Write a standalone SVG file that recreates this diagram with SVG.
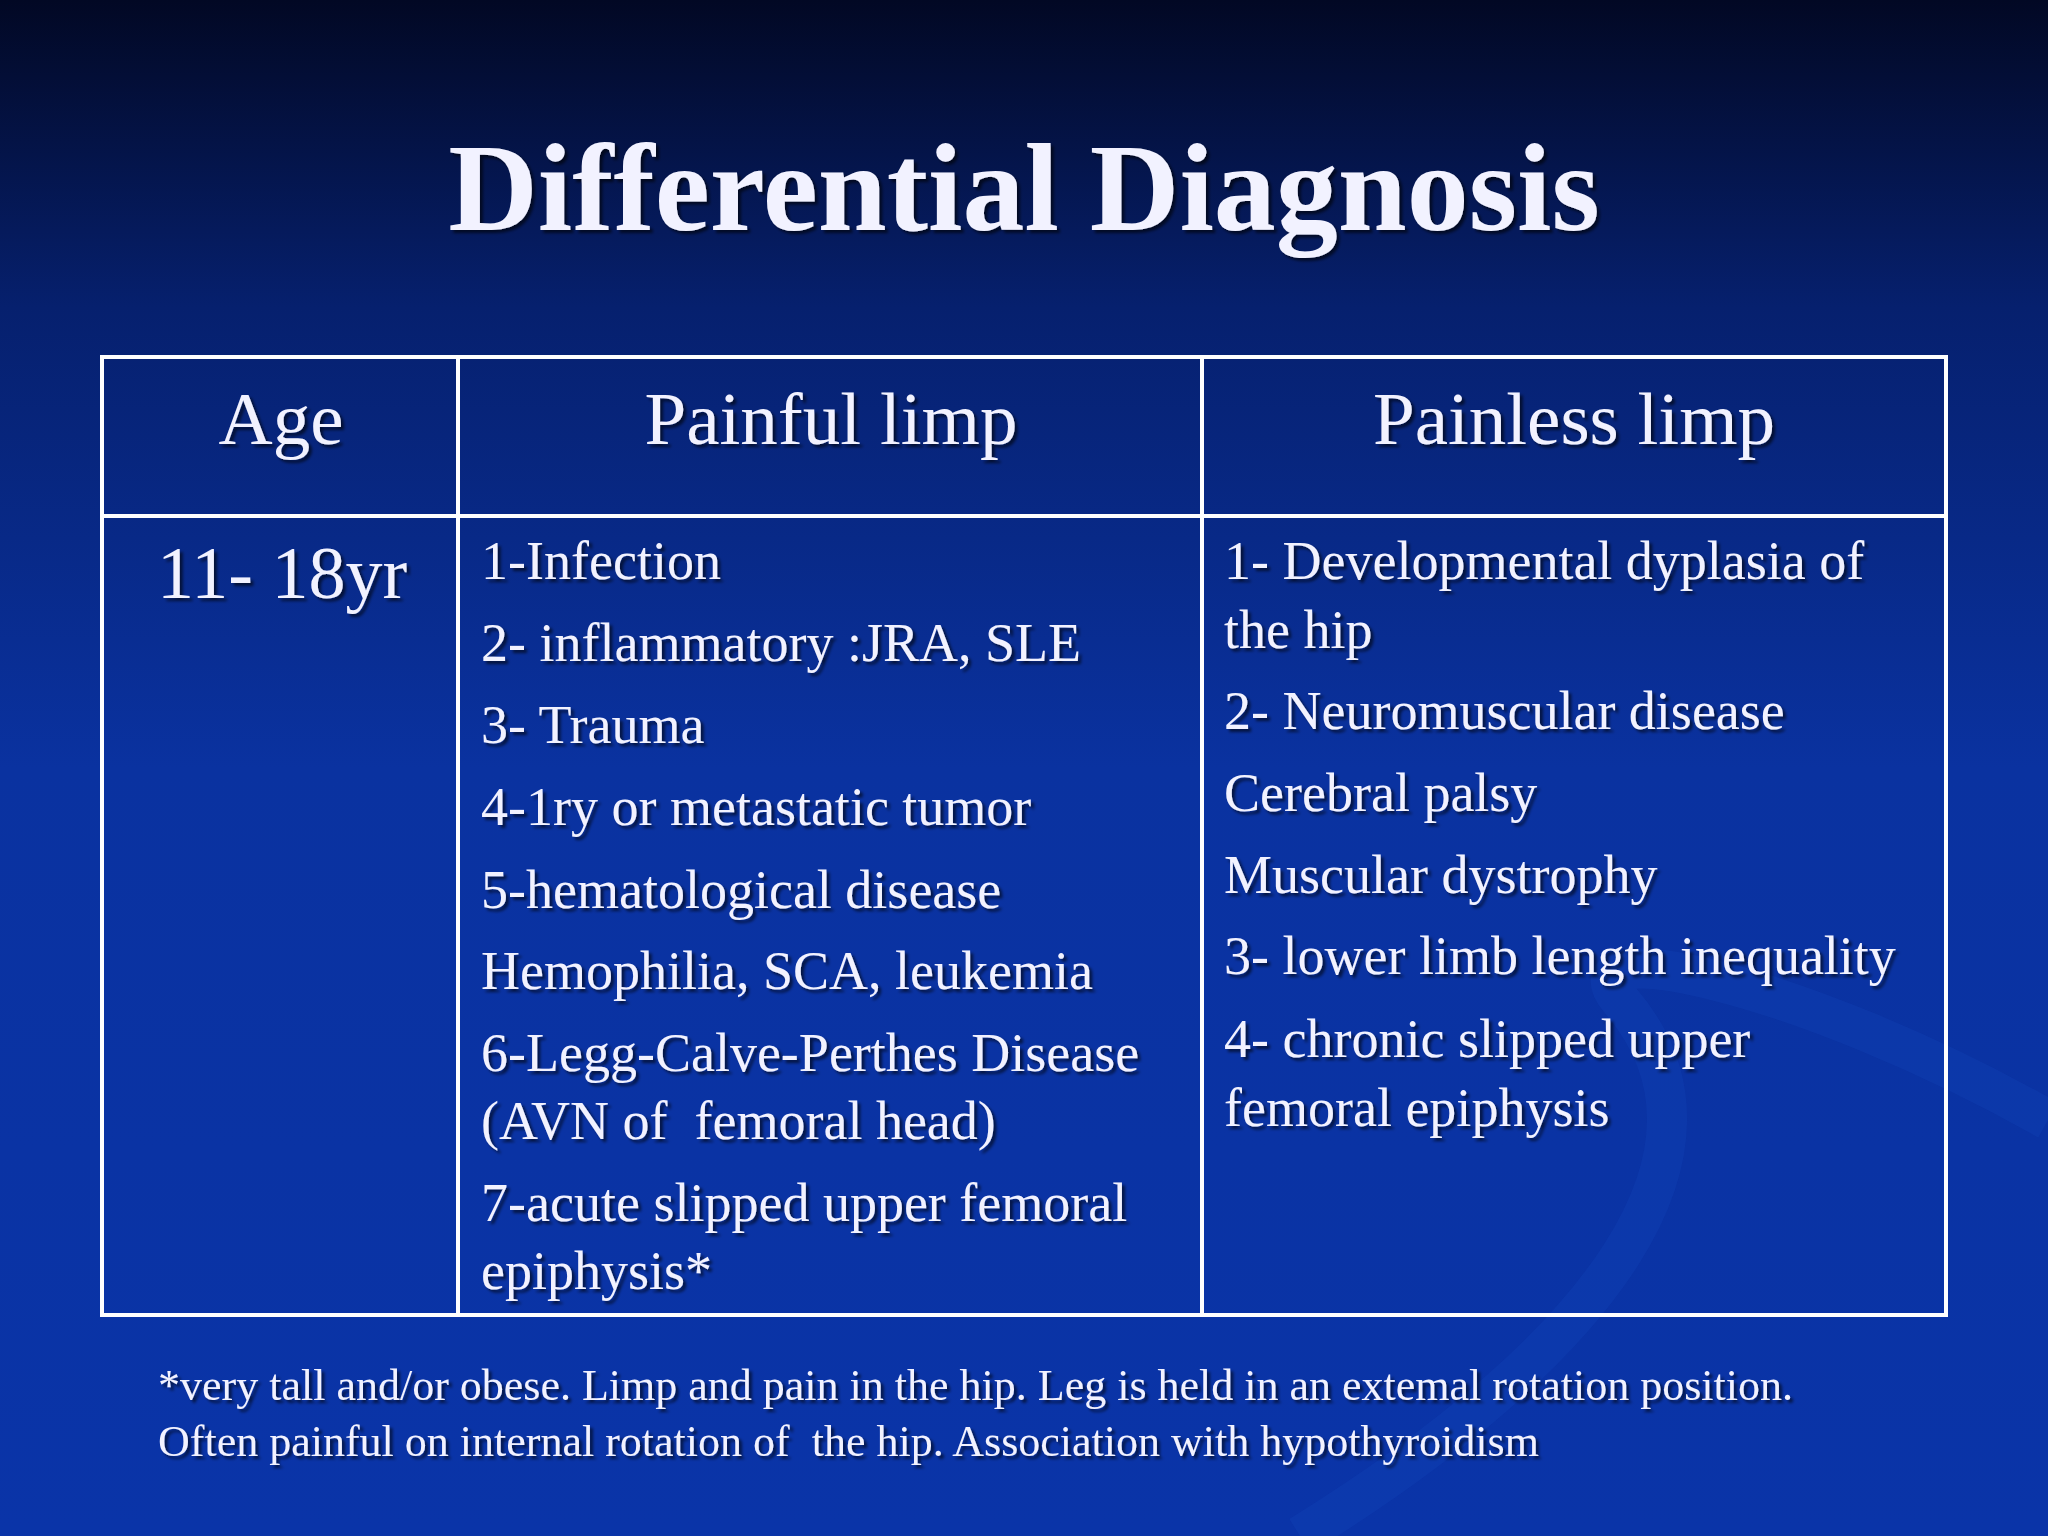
<svg xmlns="http://www.w3.org/2000/svg" width="2048" height="1536" viewBox="0 0 2048 1536">
<defs>
<linearGradient id="bg" x1="0" y1="0" x2="0" y2="1">
<stop offset="0" stop-color="#020824"/>
<stop offset="0.2" stop-color="#06206e"/>
<stop offset="0.5" stop-color="#0a32a0"/>
<stop offset="1" stop-color="#0a34a8"/>
</linearGradient>
<filter id="sh" x="-5%" y="-20%" width="110%" height="140%">
<feDropShadow dx="3" dy="3" stdDeviation="1.5" flood-color="#000" flood-opacity="0.6"/>
</filter>
</defs>
<style>
text{font-family:"Liberation Serif","Times New Roman",serif;fill:#f2f2ff;filter:url(#sh)}
.h{font-size:75px;text-anchor:middle}
.c{font-size:54px}
.f{font-size:44px}
.ln{stroke:#ffffff;stroke-width:4;fill:none}
</style>
<rect width="2048" height="1536" fill="url(#bg)"/>
<path d="M1300 1536 C1600 1350 1750 1150 1620 1000 C1560 930 1800 980 2048 1120" stroke="#1444b8" stroke-width="40" fill="none" opacity="0.3"/>
<g id="title"><text x="1024" y="230" style="font-size:124px;font-weight:bold;text-anchor:middle">Differential Diagnosis</text></g>
<g id="table">
<rect class="ln" x="102" y="357" width="1844" height="958"/>
<line class="ln" x1="458" y1="357" x2="458" y2="1315"/>
<line class="ln" x1="1202" y1="357" x2="1202" y2="1315"/>
<line class="ln" x1="102" y1="516" x2="1946" y2="516"/>
</g>
<g id="headers">
<text class="h" x="281" y="444">Age</text>
<text class="h" x="831" y="444">Painful limp</text>
<text class="h" x="1574" y="444">Painless limp</text>
</g>
<g id="age"><text x="157" y="598" style="font-size:74px">11- 18yr</text></g>
<g id="painful">
<text class="c" x="481" y="579">1-Infection</text>
<text class="c" x="481" y="661">2- inflammatory :JRA, SLE</text>
<text class="c" x="481" y="743">3- Trauma</text>
<text class="c" x="481" y="825">4-1ry or metastatic tumor</text>
<text class="c" x="481" y="908">5-hematological disease</text>
<text class="c" x="481" y="989">Hemophilia, SCA, leukemia</text>
<text class="c" x="481" y="1071">6-Legg-Calve-Perthes Disease</text>
<text class="c" x="481" y="1139" xml:space="preserve">(AVN of  femoral head)</text>
<text class="c" x="481" y="1221">7-acute slipped upper femoral</text>
<text class="c" x="481" y="1289">epiphysis*</text>
</g>
<g id="painless">
<text class="c" x="1224" y="579">1- Developmental dyplasia of</text>
<text class="c" x="1224" y="648">the hip</text>
<text class="c" x="1224" y="729">2- Neuromuscular disease</text>
<text class="c" x="1224" y="811">Cerebral palsy</text>
<text class="c" x="1224" y="893">Muscular dystrophy</text>
<text class="c" x="1224" y="974">3- lower limb length inequality</text>
<text class="c" x="1224" y="1057">4- chronic slipped upper</text>
<text class="c" x="1224" y="1126">femoral epiphysis</text>
</g>
<g id="footnote">
<text class="f" x="158" y="1400">*very tall and/or obese. Limp and pain in the hip. Leg is held in an extemal rotation position.</text>
<text class="f" x="158" y="1456" xml:space="preserve">Often painful on internal rotation of  the hip. Association with hypothyroidism</text>
</g>
</svg>
